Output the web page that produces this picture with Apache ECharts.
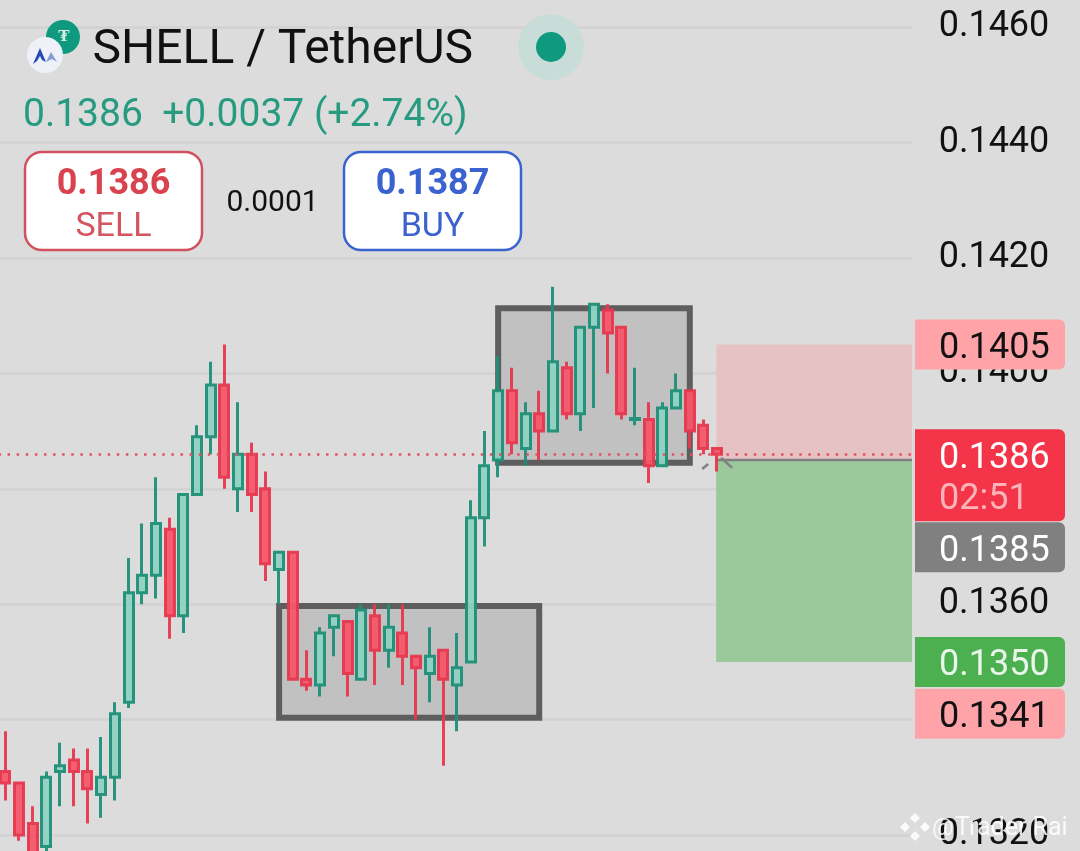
<!DOCTYPE html>
<html><head><meta charset="utf-8">
<style>html,body{margin:0;padding:0;background:#dcdcdc}#c{width:1080px;height:851px}</style>
<script src="https://cdn.jsdelivr.net/npm/echarts@6/dist/echarts.min.js"></script>
</head><body><div id="c"></div>
<script>
// ---- values ----
const opens  = [0.1331,0.1329,0.1322,0.1318,0.1331,0.1333,0.1331,0.1327,0.1330,0.1343,0.1362,0.1365,0.1373,0.1358,0.1379,0.1389,0.1398,0.1380,0.1386,0.1380,0.1366,0.1369,0.1347,0.1346,0.1356,0.1357,0.1347,0.1358,0.1352,0.1355,0.1351,0.1348,0.1352,0.1346,0.1350,0.1375,0.1385,0.1397,0.1387,0.1393,0.1390,0.1401,0.1393,0.1408,0.1411,0.1408,0.1392,0.1392,0.1384,0.1394,0.1397,0.1391,0.1387];
const closes = [0.1329,0.1320,0.1316,0.1330,0.1332,0.1331,0.1328,0.1330,0.1341,0.1362,0.1365,0.1374,0.1358,0.1379,0.1389,0.1398,0.1382,0.1386,0.1379,0.1367,0.1369,0.1347,0.1346,0.1355,0.1358,0.1348,0.1359,0.1352,0.1356,0.1351,0.1349,0.1351,0.1347,0.1349,0.1375,0.1384,0.1397,0.1388,0.1393,0.1390,0.1402,0.1393,0.1408,0.1412,0.1407,0.1393,0.13922,0.1384,0.1394,0.1397,0.1390,0.1387,0.1386];
const lows   = [0.1326,0.1319,0.1315,0.1317,0.1325,0.1325,0.1322,0.1323,0.1326,0.1342,0.1360,0.1361,0.1354,0.1355,0.1379,0.1386,0.1380,0.1376,0.1376,0.1364,0.1360,0.1347,0.1345,0.1344,0.1351,0.1344,0.1347,0.1346,0.1349,0.1346,0.1340,0.1343,0.1332,0.1338,0.1350,0.1370,0.1382,0.1386,0.1384,0.1385,0.1390,0.1392,0.1390,0.1394,0.1400,0.1392,0.1391,0.1381,0.1384,0.1394,0.1387,0.1386,0.1383];
const highs  = [0.1338,0.1329,0.1325,0.1331,0.1336,0.1335,0.1335,0.1337,0.1343,0.1368,0.1374,0.1382,0.1375,0.1379,0.1391,0.1402,0.1405,0.1395,0.1388,0.1383,0.1369,0.1369,0.1352,0.1356,0.1358,0.1357,0.1360,0.1360,0.1360,0.1360,0.1351,0.1356,0.1352,0.1355,0.1378,0.1390,0.1403,0.1401,0.1395,0.1397,0.1415,0.1402,0.1408,0.1412,0.1412,0.1408,0.1401,0.1395,0.1395,0.1400,0.1397,0.1392,0.1387];
const slotCount = 67; // candles plus the empty space to the right
const lastPrice = 0.1386;
const boxFrom = [20, 36], boxTo = [39, 50], boxTop = [0.13597, 0.14113], boxBottom = [0.13403, 0.13845];
const tradeFrom = 52, stopPrice = 0.1405, entryPrice = 0.1385, targetPrice = 0.1350;
const tagPrices = [0.1405, 0.1386, 0.1385, 0.1350, 0.1341];
const tagLabels = ['0.1405', '0.1386', '0.1385', '0.1350', '0.1341'];
const tagSubs   = ['', '02:51', '', '', ''];
const tagFills  = ['#fea3a7', '#f43549', '#808080', '#4caf50', '#fea3a7'];
const tagInks   = ['#111111', '#ffffff', '#ffffff', '#e9f6ea', '#111111'];

// ---- layout ----
const FONT = 'Roboto';
const plotRight = 912, tagX = 915, tagW = 150, tagH = 50, timerH = 92;
const bandW = 13.69;
const categories = Array.from({length: slotCount}, (_, i) => String(i));
const candles = opens.map((o, i) => [o, closes[i], lows[i], highs[i]]);

function boxItem(params, api) {
  const i = params.dataIndex;
  const a = api.coord([boxFrom[i], boxTop[i]]), b = api.coord([boxTo[i], boxBottom[i]]);
  return {type: 'rect', shape: {x: a[0], y: a[1], width: b[0] - a[0], height: b[1] - a[1]},
    style: {fill: '#c1c1c1', stroke: '#5e5e5e', lineWidth: 6}};
}
function tradeItem(params, api) {
  const x = api.coord([tradeFrom, entryPrice])[0] - 1;
  const yS = api.coord([tradeFrom, stopPrice])[1], yE = api.coord([tradeFrom, entryPrice])[1], yT = api.coord([tradeFrom, targetPrice])[1];
  return {type: 'group', children: [
    {type: 'rect', shape: {x, y: yS, width: plotRight - x, height: yE - yS}, style: {fill: '#e7c2c4'}},
    {type: 'rect', shape: {x, y: yE, width: plotRight - x, height: yT - yE}, style: {fill: '#9bc99c'}},
    {type: 'line', shape: {x1: x, y1: yE, x2: plotRight, y2: yE}, style: {stroke: '#808080', lineWidth: 2.5}},
    {type: 'line', shape: {x1: x - 8, y1: yE + 4, x2: x - 14, y2: yE + 9}, style: {stroke: '#808080', lineWidth: 2.5}},
    {type: 'line', shape: {x1: x + 5, y1: yE - 2, x2: x + 16, y2: yE + 8}, style: {stroke: '#808080', lineWidth: 2.5}}
  ]};
}
let tagFloor = -1e9;
function tagItem(params, api) {
  const i = params.dataIndex;
  if (i === 0) tagFloor = -1e9;
  const yc = api.coord([0, tagPrices[i]])[1];
  const top = Math.max(yc - tagH / 2, tagFloor);
  const h = tagSubs[i] ? timerH : tagH;
  tagFloor = top + h + 1;
  const kids = [
    {type: 'rect', shape: {x: tagX, y: top, width: tagW, height: h, r: [0, 6, 6, 0]}, style: {fill: tagFills[i]}},
    {type: 'text', style: {text: tagLabels[i], x: 939, y: top + 29.5, fill: tagInks[i], font: '36px ' + FONT, verticalAlign: 'middle'}}
  ];
  if (tagSubs[i]) kids.push({type: 'text', style: {text: tagSubs[i], x: 939, y: top + 71, fill: '#ffb4ba', font: '36px ' + FONT, verticalAlign: 'middle'}});
  return {type: 'group', children: kids};
}

const chart = echarts.init(document.getElementById('c'), null, {renderer: 'canvas'});
const txt = (text, x, y, font, fill, align) => ({type: 'text', z: 20, style: {text, x, y, font: font + ' ' + FONT, fill, align: align || 'left', verticalAlign: 'middle'}});
const btn = (x, stroke) => ({type: 'rect', z: 20, shape: {x, y: 152, width: 177, height: 98, r: 17}, style: {fill: '#ffffff', stroke, lineWidth: 2.5}});
const diamond = (cx, cy, r) => ({type: 'polygon', z: 21, shape: {points: [[cx, cy - r], [cx + r, cy], [cx, cy + r], [cx - r, cy]]}, style: {fill: 'rgba(255,255,255,0.88)'}});

chart.setOption({
  animation: false,
  backgroundColor: '#dcdcdc',
  title: [
    {text: 'SHELL / TetherUS', left: 87.5, top: 22, textStyle: {fontFamily: FONT, fontWeight: 'normal', fontSize: 48, color: '#111111'}, z: 20},
    {text: '0.1386  +0.0037 (+2.74%)', left: 18, top: 92, textStyle: {fontFamily: FONT, fontWeight: 'normal', fontSize: 39, color: '#269b80'}, z: 20}
  ],
  grid: {left: 5.3 - bandW / 2, top: -88.2, width: bandW * slotCount, height: 1038.6, outerBoundsMode: 'none'},
  xAxis: {type: 'category', data: categories, show: false, boundaryGap: true},
  yAxis: {
    type: 'value', position: 'right', min: 0.130, max: 0.148, interval: 0.002,
    axisLine: {show: false}, axisTick: {show: false},
    splitLine: {show: true, lineStyle: {color: '#d2d2d2', width: 2.5}},
    axisLabel: {margin: 23, padding: [8, 0, 0, 0], fontFamily: FONT, fontSize: 36, color: '#111111', formatter: v => v.toFixed(4)}
  },
  series: [
    {type: 'custom', z: 1, silent: true, renderItem: tradeItem, data: [0]},
    {type: 'custom', z: 1, silent: true, renderItem: boxItem, data: boxFrom.map((_, i) => i)},
    {type: 'candlestick', z: 2, data: candles, barWidth: 9.5, silent: true,
      itemStyle: {color: '#8fd2c1', color0: '#f4566a', borderColor: '#1f8f78', borderColor0: '#e6384e', borderWidth: 3, opacity: 0.95},
      markLine: {silent: true, symbol: 'none', animation: false, precision: 6, label: {show: false},
        lineStyle: {color: '#e2525f', width: 2.5, type: [2.5, 6.6]}, data: [{yAxis: lastPrice}]}},
    {type: 'custom', z: 10, silent: true, renderItem: tagItem, data: tagPrices.map((_, i) => i)}
  ],
  graphic: {elements: [
    {type: 'rect', z: 4, shape: {x: plotRight, y: 0, width: 3, height: 851}, style: {fill: '#dcdcdc'}},
    // header marks
    {type: 'circle', z: 20, shape: {cx: 63, cy: 37, r: 17}, style: {fill: '#0f9a80'}},
    txt('₮', 64, 37, 'bold 17px', '#d8efe9', 'center'),
    {type: 'circle', z: 20, shape: {cx: 45, cy: 55, r: 18}, style: {fill: '#eef1f8'}},
    {type: 'polygon', z: 21, shape: {points: [[33, 64], [40, 48], [46, 62], [42, 60], [40, 56], [37, 61]]}, style: {fill: '#2749b5'}},
    {type: 'polygon', z: 21, shape: {points: [[46, 62], [51, 52], [57, 62], [52, 59]]}, style: {fill: '#8a9ad6'}},
    {type: 'circle', z: 20, shape: {cx: 551, cy: 47, r: 33}, style: {fill: '#c9ddd8'}},
    {type: 'circle', z: 21, shape: {cx: 551, cy: 47, r: 15}, style: {fill: '#0f9a80'}},
    // bid / ask
    btn(25, '#d3505f'), btn(344, '#3a63cf'),
    txt('0.1386', 113.5, 185, 'bold 36px', '#d8434f', 'center'),
    txt('SELL', 113.5, 227, '34px', '#d4545f', 'center'),
    txt('0.0001', 272.5, 203, '30px', '#111111', 'center'),
    txt('0.1387', 432.5, 185, 'bold 36px', '#3a63cf', 'center'),
    txt('BUY', 432.5, 227, '34px', '#3a63cf', 'center'),
    // watermark
    diamond(915, 818, 5), diamond(905, 827, 5), diamond(925, 827, 5), diamond(915, 836, 5),
    txt('@', 932, 829, '24px', 'rgba(255,255,255,0.85)'),
    txt('Trader Rai', 955, 829, '25px', 'rgba(255,255,255,0.85)')
  ]}
});
</script></body></html>
